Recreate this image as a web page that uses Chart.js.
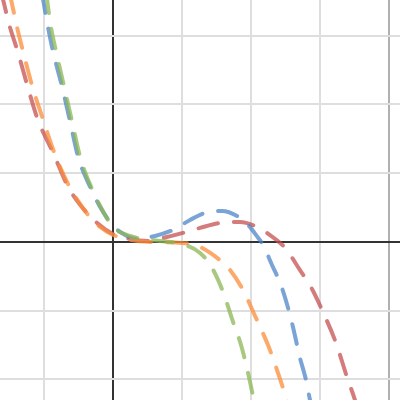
<!DOCTYPE html>
<html>
<head>
<meta charset="utf-8">
<script src="https://cdn.jsdelivr.net/npm/chart.js@4"></script>
<style>
html,body{margin:0;padding:0;background:#fff;}
#wrap{width:400px;height:400px;position:relative;}
</style>
</head>
<body>
<div id="wrap"><canvas id="c"></canvas></div>
<script>
// Values (graph units, 1 grid square = 1)
const redX = [-1.62, -1.594, -1.493, -1.391, -1.246, -1.101, -0.870, -0.652, -0.478, -0.232, 0, 0.246, 0.507, 0.725, 1.014, 1.261, 1.551, 1.841, 2.087, 2.232, 2.493, 2.71, 2.884, 3.043, 3.232, 3.391, 3.507, 3.53];
const redY = [3.63, 3.52, 3.115, 2.795, 2.285, 1.805, 1.296, 0.80, 0.539, 0.277, 0.116, 0.044, 0.015, 0.058, 0.131, 0.204, 0.277, 0.291, 0.218, 0.131, -0.087, -0.41, -0.684, -1.019, -1.47, -1.965, -2.30, -2.38];

const orangeX = [-1.50, -1.478, -1.391, -1.304, -1.174, -1.014, -0.841, -0.623, -0.362, -0.188, 0, 0.246, 0.536, 0.899, 1.116, 1.29, 1.58, 1.696, 1.884, 2.058, 2.246, 2.362, 2.464, 2.522, 2.54];
const orangeY = [3.62, 3.52, 3.115, 2.766, 2.271, 1.776, 1.266, 0.786, 0.393, 0.218, 0.102, 0.029, 0, -0.007, -0.029, -0.087, -0.291, -0.408, -0.699, -1.077, -1.5, -1.82, -2.125, -2.30, -2.36];

const blueX = [-1.03, -1.014, -0.942, -0.870, -0.739, -0.623, -0.507, -0.333, -0.188, 0, 0.174, 0.348, 0.609, 0.870, 1.116, 1.333, 1.58, 1.797, 1.957, 2.072, 2.174, 2.304, 2.449, 2.594, 2.71, 2.797, 2.855, 2.87];
const blueY = [3.62, 3.52, 3.115, 2.766, 2.256, 1.747, 1.237, 0.80, 0.509, 0.233, 0.102, 0.044, 0.087, 0.175, 0.32, 0.422, 0.451, 0.378, 0.247, 0.102, -0.044, -0.335, -0.67, -1.179, -1.688, -2.009, -2.30, -2.36];

const greenX = [-0.97, -0.957, -0.899, -0.826, -0.71, -0.594, -0.478, -0.319, -0.188, 0, 0.246, 0.536, 0.826, 1.043, 1.261, 1.435, 1.594, 1.739, 1.855, 1.957, 2.043, 2.06];
const greenY = [3.62, 3.52, 3.115, 2.766, 2.256, 1.747, 1.237, 0.80, 0.524, 0.218, 0.087, 0.029, 0, -0.044, -0.16, -0.378, -0.728, -1.164, -1.499, -1.907, -2.30, -2.36];

// listed top-most first (Chart.js paints the first dataset on top)
const seriesNames = ['green', 'orange', 'blue', 'red'];
const seriesColors = ['rgba(139,183,84,0.75)', 'rgba(251,140,56,0.75)', 'rgba(77,132,200,0.75)', 'rgba(197,79,79,0.75)'];
const seriesXs = [greenX, orangeX, blueX, redX];
const seriesYs = [greenY, orangeY, blueY, redY];

function pts(xs, ys){ return xs.map((x,i)=>({x:x, y:ys[i]})); }

const datasets = seriesNames.map((n,i)=>({
  label: n,
  data: pts(seriesXs[i], seriesYs[i]),
  borderColor: seriesColors[i],
  borderWidth: 4,
  borderDash: [20, 16],
  borderCapStyle: 'round',
  borderJoinStyle: 'round',
  pointRadius: 0,
  fill: false,
  cubicInterpolationMode: 'monotone'
}));

function gridColor(ctx){
  const v = ctx.tick ? ctx.tick.value : null;
  if (v === 0) return '#333333';
  if (v === 4) return '#b0b0b0';
  return '#dedede';
}

new Chart(document.getElementById('c'), {
  type: 'line',
  data: { datasets: datasets },
  options: {
    responsive: true,
    maintainAspectRatio: false,
    animation: false,
    layout: { padding: 0 },
    plugins: { legend: { display: false }, tooltip: { enabled: false } },
    scales: {
      x: {
        type: 'linear',
        min: -1.64, max: 4.16,
        ticks: { display: false, stepSize: 1, includeBounds: false },
        grid: { color: gridColor, lineWidth: 2, drawTicks: false },
        border: { display: false }
      },
      y: {
        type: 'linear',
        min: -2.30, max: 3.52,
        ticks: { display: false, stepSize: 1, includeBounds: false },
        grid: { color: gridColor, lineWidth: 2, drawTicks: false },
        border: { display: false }
      }
    }
  }
});
</script>
</body>
</html>
